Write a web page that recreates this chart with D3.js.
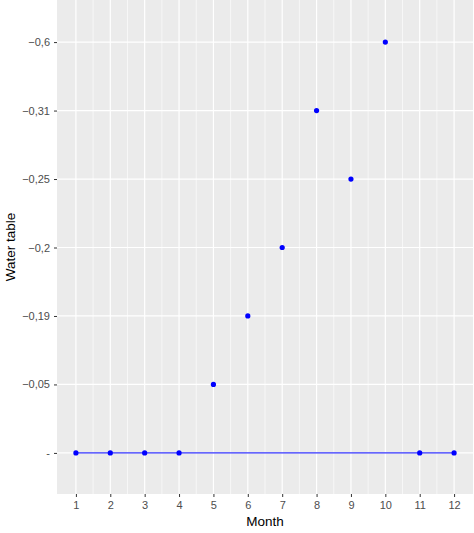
<!DOCTYPE html>
<html><head><meta charset="utf-8">
<script src="https://cdn.jsdelivr.net/npm/d3@7"></script>
<style>body{margin:0;background:#fff}</style></head>
<body><div id="chart"></div>
<script>
const months = [1, 2, 3, 4, 5, 6, 7, 8, 9, 10, 11, 12];
const levels = ["-", "-0,05", "-0,19", "-0,2", "-0,25", "-0,31", "-0,6"];
const values = ["-", "-", "-", "-", "-0,05", "-0,19", "-0,2", "-0,31", "-0,25", "-0,6", "-", "-"];

const width = 474, height = 533;
const m = {left: 57, right: 473, top: 1, bottom: 494};

const svg = d3.select("#chart").append("svg")
  .attr("width", width).attr("height", height)
  .style("font-family", "Arial, 'Liberation Sans', sans-serif");

const x = d3.scaleLinear().domain([0.45, 12.55]).range([m.left, m.right]);
const y = d3.scalePoint().domain(levels).range([m.bottom, m.top]).padding(0.6);

svg.append("rect").attr("x", m.left).attr("y", 0)
  .attr("width", m.right - m.left).attr("height", m.bottom).attr("fill", "#ebebeb");

const grid = svg.append("g").attr("stroke", "#fff");
grid.selectAll(".minor").data(d3.range(1.5, 12.5, 1)).join("line")
  .attr("x1", d => x(d)).attr("x2", d => x(d)).attr("y1", 0).attr("y2", m.bottom)
  .attr("stroke-width", 0.6);
grid.selectAll(".major").data(months).join("line")
  .attr("x1", d => x(d)).attr("x2", d => x(d)).attr("y1", 0).attr("y2", m.bottom)
  .attr("stroke-width", 1.2);
grid.selectAll(".hy").data(levels).join("line")
  .attr("x1", m.left).attr("x2", m.right).attr("y1", d => y(d)).attr("y2", d => y(d))
  .attr("stroke-width", 1.2);

const fmt = s => s === "-" ? "-" : s.replace("-", "\u2212");

const xAxis = svg.append("g").attr("transform", `translate(0,${m.bottom})`)
  .call(d3.axisBottom(x).tickValues(months).tickSize(3).tickPadding(4));
const yAxis = svg.append("g").attr("transform", `translate(${m.left},0)`)
  .call(d3.axisLeft(y).tickSize(3).tickPadding(4).tickFormat(fmt));
[xAxis, yAxis].forEach(a => {
  a.select(".domain").remove();
  a.selectAll(".tick line").attr("stroke", "#333");
  a.selectAll(".tick text").attr("fill", "#4d4d4d").style("font-size", "11px").style("font-family", "inherit");
});

const pts = months.map((mo, i) => ({mo, v: values[i]}));
const flat = pts.filter(d => d.v === "-");
svg.append("path").datum(flat)
  .attr("fill", "none").attr("stroke", "#0000ff").attr("stroke-width", 1)
  .attr("d", d3.line().x(d => x(d.mo)).y(d => y(d.v)));
svg.selectAll(".pt").data(pts).join("circle")
  .attr("cx", d => x(d.mo)).attr("cy", d => y(d.v)).attr("r", 2.6).attr("fill", "#0000ff");

svg.append("text").attr("x", (m.left + m.right) / 2).attr("y", 526)
  .attr("text-anchor", "middle").style("font-size", "13.5px").text("Month");
svg.append("text").attr("transform", `translate(15,${m.bottom / 2}) rotate(-90)`)
  .attr("text-anchor", "middle").style("font-size", "13.5px").text("Water table");
</script></body></html>
